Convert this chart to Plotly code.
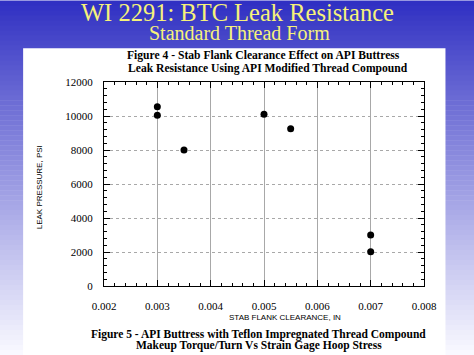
import plotly.graph_objects as go

# Data
clearance_in = [0.003, 0.003, 0.0035, 0.005, 0.0055, 0.007, 0.007]
leak_pressure_psi = [10550, 10050, 8000, 10100, 9250, 3000, 2020]

x_tickvals = [0.002, 0.003, 0.004, 0.005, 0.006, 0.007, 0.008]
x_ticktext = ["0.002", "0.003", "0.004", "0.005", "0.006", "0.007", "0.008"]
y_tickvals = [0, 2000, 4000, 6000, 8000, 10000, 12000]
y_ticktext = ["0", "2000", "4000", "6000", "8000", "10000", "12000"]

slide_title = "WI 2291: BTC Leak Resistance"
slide_subtitle = "Standard Thread Form"
fig4_caption = ["Figure 4 - Stab Flank Clearance Effect on API Buttress",
                "Leak Resistance Using API Modified Thread Compound"]
fig5_caption = ["Figure 5 - API Buttress with Teflon Impregnated Thread Compound",
                "Makeup Torque/Turn Vs Strain Gage Hoop Stress"]
x_title = "STAB FLANK CLEARANCE, IN"
y_title = "LEAK PRESSURE, PSI"

W, H = 474, 355
L, R, T, B = 104, 424.5, 81.7, 286
pw, ph = R - L, B - T


def px(X):
    return (X - L) / pw


def py(Y):
    return (B - Y) / ph


fig = go.Figure()
fig.add_trace(go.Scatter(
    x=clearance_in, y=leak_pressure_psi, mode="markers",
    marker=dict(color="black", size=7), showlegend=False,
))
# invisible trace to carry the mirrored top/right tick axes
fig.add_trace(go.Scatter(
    x=clearance_in, y=leak_pressure_psi, mode="markers", xaxis="x2", yaxis="y2",
    marker=dict(opacity=0), hoverinfo="skip", showlegend=False,
))

shapes = []
# background gradient (blue to white)
n = 71
top = (46, 46, 194)
bot = (250, 250, 255)
for i in range(n):
    y0 = i * H / n
    y1 = (i + 1) * H / n + 0.6
    t = ((i + 0.5) / n) ** 0.95
    c = tuple(int(round(top[k] + (bot[k] - top[k]) * t)) for k in range(3))
    shapes.append(dict(type="rect", xref="paper", yref="paper", layer="below",
                       x0=px(-2), x1=px(W + 2), y0=py(y1), y1=py(y0),
                       line=dict(width=0), fillcolor="rgb(%d,%d,%d)" % c))
# white slide panel
shapes.append(dict(type="rect", xref="paper", yref="paper", layer="below",
                   x0=px(23), x1=px(446), y0=py(H + 2), y1=py(48),
                   line=dict(width=0), fillcolor="white"))
fig.update_layout(shapes=shapes)

serif = "Liberation Serif"
ann = [
    dict(text=slide_title, x=px(238), y=py(12.5), font=dict(family=serif, size=24.5, color="#f6f27a")),
    dict(text=slide_subtitle, x=px(240), y=py(33), font=dict(family=serif, size=20, color="#f6f27a")),
    dict(text="<b>" + fig4_caption[0] + "</b>", x=px(264), y=py(55.5),
         font=dict(family=serif, size=11.6, color="black")),
    dict(text="<b>" + fig4_caption[1] + "</b>", x=px(268), y=py(68.5),
         font=dict(family=serif, size=11.6, color="black")),
    dict(text="<b>" + fig5_caption[0] + "</b>", x=px(259), y=py(334.5),
         font=dict(family=serif, size=11.5, color="black")),
    dict(text="<b>" + fig5_caption[1] + "</b>", x=px(259), y=py(346),
         font=dict(family=serif, size=11.5, color="black")),
    dict(text=x_title, x=px(285), y=py(317.5), font=dict(family="Liberation Sans", size=8, color="black")),
    dict(text=y_title, x=px(39), y=py(187), textangle=-90,
         font=dict(family="Liberation Sans", size=8, color="black")),
]
for a in ann:
    a.update(xref="paper", yref="paper", showarrow=False, xanchor="center", yanchor="middle")
fig.update_layout(annotations=ann)

axis_common = dict(showline=True, linecolor="black", linewidth=1.3, mirror=True,
                   ticks="inside", ticklen=6, tickwidth=1, tickcolor="black",
                   zeroline=False, showgrid=True, gridcolor="#a8a8a8", gridwidth=1,
                   tickfont=dict(family=serif, size=11, color="black"))
fig.update_layout(
    xaxis=dict(range=[0.002, 0.008], tickvals=x_tickvals, ticktext=x_ticktext,
               griddash="solid", ticklabelstandoff=10,
               minor=dict(dtick=0.0002, ticks="inside", ticklen=3, tickcolor="black", showgrid=False),
               **axis_common),
    yaxis=dict(range=[0, 12000], tickvals=y_tickvals, ticktext=y_ticktext,
               griddash="dot", ticklabelstandoff=8,
               minor=dict(dtick=400, ticks="inside", ticklen=3, tickcolor="black", showgrid=False),
               **axis_common),
    xaxis2=dict(range=[0.002, 0.008], tickvals=x_tickvals, overlaying="x", side="top", anchor="y",
                showticklabels=False, showgrid=False, zeroline=False, showline=False,
                ticks="inside", ticklen=6, tickcolor="black",
                minor=dict(dtick=0.0002, ticks="inside", ticklen=3, tickcolor="black", showgrid=False)),
    yaxis2=dict(range=[0, 12000], tickvals=y_tickvals, overlaying="y", side="right", anchor="x",
                showticklabels=False, showgrid=False, zeroline=False, showline=False,
                ticks="inside", ticklen=6, tickcolor="black",
                minor=dict(dtick=400, ticks="inside", ticklen=3, tickcolor="black", showgrid=False)),
)

fig.update_layout(width=W, height=H, margin=dict(l=L, r=W - R, t=T, b=H - B),
                  paper_bgcolor="white", plot_bgcolor="rgba(0,0,0,0)", showlegend=False)

fig.write_html("out.html")
